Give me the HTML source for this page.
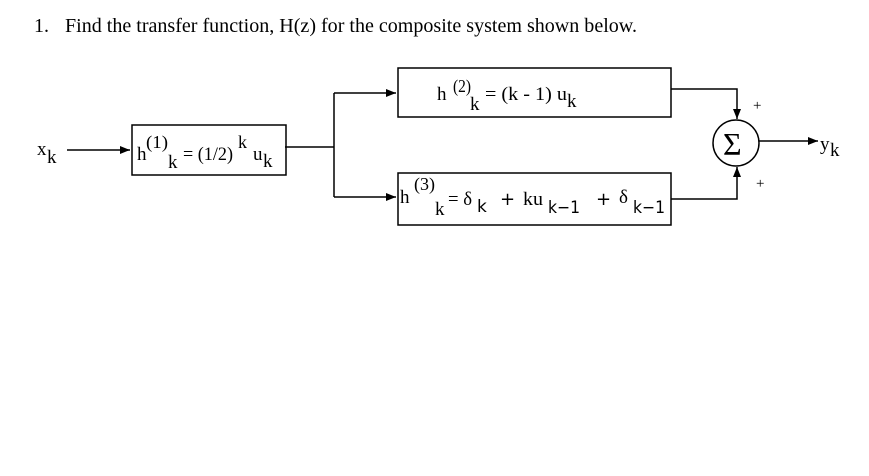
<!DOCTYPE html>
<html><head><style>
html,body{margin:0;padding:0;background:#fff;}
svg{display:block;}
text{font-family:"Liberation Serif",serif;fill:#000;}
.s{font-family:"DejaVu Sans","Liberation Sans",sans-serif;}
</style></head><body>
<svg width="869" height="476" viewBox="0 0 869 476">
<defs><marker id="a" markerWidth="10" markerHeight="8" refX="10" refY="4" orient="auto" markerUnits="userSpaceOnUse"><path d="M0,0 L10,4 L0,8 z" fill="#000"/></marker></defs>
<text x="34" y="32" font-size="20">1.</text>
<text x="65" y="32" font-size="20" textLength="572" lengthAdjust="spacingAndGlyphs">Find the transfer function, H(z) for the composite system shown below.</text>
<g stroke="#000" stroke-width="1.5" fill="none">
<rect x="132" y="125" width="154" height="50"/>
<rect x="398" y="68" width="273" height="49"/>
<rect x="398" y="173" width="273" height="52"/>
<circle cx="736" cy="143" r="23"/>
<line x1="67" y1="150" x2="130" y2="150" marker-end="url(#a)"/>
<polyline points="285,147 334,147"/>
<line x1="334" y1="93" x2="334" y2="197"/>
<line x1="334" y1="93" x2="396" y2="93" marker-end="url(#a)"/>
<line x1="334" y1="197" x2="396" y2="197" marker-end="url(#a)"/>
<polyline points="671,89 737,89 737,119" marker-end="url(#a)"/>
<polyline points="671,199 737,199 737,167" marker-end="url(#a)"/>
<line x1="759" y1="141" x2="818" y2="141" marker-end="url(#a)"/>
</g>
<text x="723" y="155" font-size="32">Σ</text>
<text x="753" y="110" font-size="15">+</text>
<text x="756" y="188" font-size="15">+</text>
<text x="37" y="155" font-size="19">x</text><text x="47" y="163" font-size="19">k</text>
<text x="820" y="150" font-size="19">y</text><text x="830" y="156" font-size="19">k</text>
<text x="137" y="160" font-size="19">h</text><text x="146" y="148" font-size="18" textLength="22" lengthAdjust="spacingAndGlyphs">(1)</text>
<text x="168" y="168" font-size="19">k</text><text x="183" y="160" font-size="19" textLength="50" lengthAdjust="spacingAndGlyphs">= (1/2)</text><text x="238" y="148" font-size="18">k</text>
<text x="253" y="160" font-size="19">u</text><text x="263" y="167" font-size="19">k</text>
<text x="437" y="100" font-size="19">h</text><text x="453" y="92" font-size="18" textLength="18" lengthAdjust="spacingAndGlyphs">(2)</text>
<text x="470" y="110" font-size="19">k</text><text x="485" y="100" font-size="19" textLength="82" lengthAdjust="spacingAndGlyphs">= (k - 1) u</text><text x="567" y="107" font-size="19">k</text>
<text x="400" y="203" font-size="19">h</text><text x="414" y="190" font-size="18" textLength="21" lengthAdjust="spacingAndGlyphs">(3)</text>
<text x="435" y="215" font-size="19">k</text><text x="448" y="205" font-size="19" textLength="24" lengthAdjust="spacingAndGlyphs">= δ</text><text x="477" y="212" font-size="17" class="s">k</text>
<text x="500" y="205" font-size="18" class="s">+</text><text x="523" y="205" font-size="19" textLength="20" lengthAdjust="spacingAndGlyphs">ku</text>
<text x="548" y="213" font-size="17" class="s" textLength="32" lengthAdjust="spacingAndGlyphs">k−1</text>
<text x="596" y="205" font-size="18" class="s">+</text><text x="619" y="203" font-size="19">δ</text>
<text x="633" y="213" font-size="17" class="s" textLength="32" lengthAdjust="spacingAndGlyphs">k−1</text>
</svg>
</body></html>
